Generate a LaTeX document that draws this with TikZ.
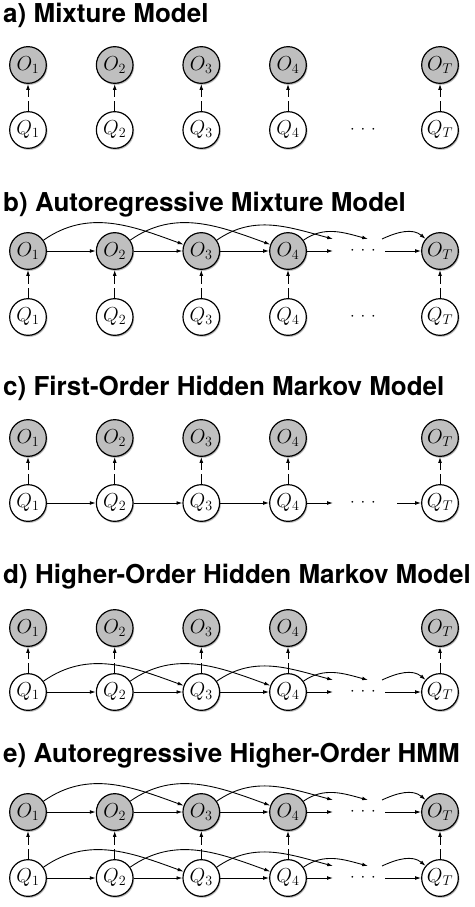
\documentclass[tikz,border=0pt]{standalone}
\usepackage{fontspec}
\newfontfamily\headfont{TeX Gyre Heros}
\usetikzlibrary{arrows.meta,shadows}

\begin{document}
\begin{tikzpicture}[x=0.03cm, y=0.03cm, every node/.style={align=center},
  title/.style={anchor=base west, inner sep=0pt, font=\headfont\bfseries\fontsize{22.2}{25}\selectfont},
  obsnode/.style={circle, draw, line width=1pt, fill=black!25, minimum size=1.1cm, inner sep=0pt, font=\LARGE,
    circular drop shadow={shadow scale=1.04, shadow xshift=0.6pt, shadow yshift=-0.9pt}},
  hidnode/.style={obsnode, fill=white},
  dotsnode/.style={inner sep=0pt, font=\Large},
  trans/.style={line width=0.75pt, -{Latex[length=5pt,width=3.2pt]}},
  emis/.style={trans, dash pattern=on 8.5pt off 3.8pt on 20pt off 1pt}]
\useasboundingbox (0,0) rectangle (474,-907);

% a) Mixture Model
\node[title] (title-a) at (3,-22.5) {a) Mixture Model};
\node[obsnode] (a-o1) at (28,-65) {$O_1$};
\node[obsnode] (a-o2) at (114.7,-65) {$O_2$};
\node[obsnode] (a-o3) at (201.3,-65) {$O_3$};
\node[obsnode] (a-o4) at (288,-65) {$O_4$};
\node[obsnode] (a-oT) at (440,-65) {$O_T$};
\node[hidnode] (a-q1) at (28,-130) {$Q_1$};
\node[hidnode] (a-q2) at (114.7,-130) {$Q_2$};
\node[hidnode] (a-q3) at (201.3,-130) {$Q_3$};
\node[hidnode] (a-q4) at (288,-130) {$Q_4$};
\node[hidnode] (a-qT) at (440,-130) {$Q_T$};
\node[dotsnode] (a-qdots) at (363,-130) {${\cdot}\hspace{5pt}{\cdot}\hspace{5pt}{\cdot}$};
\draw[emis] (a-q1) -- (a-o1);
\draw[emis] (a-q2) -- (a-o2);
\draw[emis] (a-q3) -- (a-o3);
\draw[emis] (a-q4) -- (a-o4);
\draw[emis] (a-qT) -- (a-oT);

% b) Autoregressive Mixture Model
\node[title] (title-b) at (3,-212) {b) Autoregressive Mixture Model};
\node[obsnode] (b-o1) at (28,-251) {$O_1$};
\node[obsnode] (b-o2) at (114.7,-251) {$O_2$};
\node[obsnode] (b-o3) at (201.3,-251) {$O_3$};
\node[obsnode] (b-o4) at (288,-251) {$O_4$};
\node[obsnode] (b-oT) at (440,-251) {$O_T$};
\node[hidnode] (b-q1) at (28,-317) {$Q_1$};
\node[hidnode] (b-q2) at (114.7,-317) {$Q_2$};
\node[hidnode] (b-q3) at (201.3,-317) {$Q_3$};
\node[hidnode] (b-q4) at (288,-317) {$Q_4$};
\node[hidnode] (b-qT) at (440,-317) {$Q_T$};
\node[dotsnode] (b-odots) at (363,-251) {${\cdot}\hspace{5pt}{\cdot}\hspace{5pt}{\cdot}$};
\node[dotsnode] (b-qdots) at (363,-317) {${\cdot}\hspace{5pt}{\cdot}\hspace{5pt}{\cdot}$};
\coordinate (b-oout) at (333,-251);
\coordinate (b-oin) at (385,-251);
\coordinate (b-oskip3) at (333,-239);
\coordinate (b-oskip4) at (368,-239);
\coordinate (b-oskipT) at (382,-239);
\draw[emis] (b-q1) -- (b-o1);
\draw[emis] (b-q2) -- (b-o2);
\draw[emis] (b-q3) -- (b-o3);
\draw[emis] (b-q4) -- (b-o4);
\draw[emis] (b-qT) -- (b-oT);
\draw[trans] (b-o1) -- (b-o2);
\draw[trans] (b-o2) -- (b-o3);
\draw[trans] (b-o3) -- (b-o4);
\draw[trans] (b-o4) -- (b-oout);
\draw[trans] (b-oin) -- (b-oT);
\draw[trans] (b-o1) to[out=35,in=160] (b-o3);
\draw[trans] (b-o2) to[out=35,in=160] (b-o4);
\draw[trans] (b-o3) to[out=35,in=165] (b-oskip3);
\draw[trans] (b-o4) to[out=35,in=165] (b-oskip4);
\draw[trans] (b-oskipT) to[out=25,in=140] (b-oT);

% c) First-Order Hidden Markov Model
\node[title] (title-c) at (3,-395) {c) First-Order Hidden Markov Model};
\node[obsnode] (c-o1) at (28,-438) {$O_1$};
\node[obsnode] (c-o2) at (114.7,-438) {$O_2$};
\node[obsnode] (c-o3) at (201.3,-438) {$O_3$};
\node[obsnode] (c-o4) at (288,-438) {$O_4$};
\node[obsnode] (c-oT) at (440,-438) {$O_T$};
\node[hidnode] (c-q1) at (28,-503) {$Q_1$};
\node[hidnode] (c-q2) at (114.7,-503) {$Q_2$};
\node[hidnode] (c-q3) at (201.3,-503) {$Q_3$};
\node[hidnode] (c-q4) at (288,-503) {$Q_4$};
\node[hidnode] (c-qT) at (440,-503) {$Q_T$};
\node[dotsnode] (c-qdots) at (363,-503) {${\cdot}\hspace{5pt}{\cdot}\hspace{5pt}{\cdot}$};
\coordinate (c-qout) at (333,-503);
\coordinate (c-qin) at (397,-503);
\draw[emis] (c-q1) -- (c-o1);
\draw[emis] (c-q2) -- (c-o2);
\draw[emis] (c-q3) -- (c-o3);
\draw[emis] (c-q4) -- (c-o4);
\draw[emis] (c-qT) -- (c-oT);
\draw[trans] (c-q1) -- (c-q2);
\draw[trans] (c-q2) -- (c-q3);
\draw[trans] (c-q3) -- (c-q4);
\draw[trans] (c-q4) -- (c-qout);
\draw[trans] (c-qin) -- (c-qT);

% d) Higher-Order Hidden Markov Model
\node[title] (title-d) at (3,-583) {d) Higher-Order Hidden Markov Model};
\node[obsnode] (d-o1) at (28,-628) {$O_1$};
\node[obsnode] (d-o2) at (114.7,-628) {$O_2$};
\node[obsnode] (d-o3) at (201.3,-628) {$O_3$};
\node[obsnode] (d-o4) at (288,-628) {$O_4$};
\node[obsnode] (d-oT) at (440,-628) {$O_T$};
\node[hidnode] (d-q1) at (28,-692) {$Q_1$};
\node[hidnode] (d-q2) at (114.7,-692) {$Q_2$};
\node[hidnode] (d-q3) at (201.3,-692) {$Q_3$};
\node[hidnode] (d-q4) at (288,-692) {$Q_4$};
\node[hidnode] (d-qT) at (440,-692) {$Q_T$};
\node[dotsnode] (d-qdots) at (363,-692) {${\cdot}\hspace{5pt}{\cdot}\hspace{5pt}{\cdot}$};
\coordinate (d-qout) at (333,-692);
\coordinate (d-qin) at (385,-692);
\coordinate (d-qskip3) at (333,-680);
\coordinate (d-qskip4) at (368,-680);
\coordinate (d-qskipT) at (382,-680);
\draw[emis] (d-q1) -- (d-o1);
\draw[emis] (d-q2) -- (d-o2);
\draw[emis] (d-q3) -- (d-o3);
\draw[emis] (d-q4) -- (d-o4);
\draw[emis] (d-qT) -- (d-oT);
\draw[trans] (d-q1) -- (d-q2);
\draw[trans] (d-q2) -- (d-q3);
\draw[trans] (d-q3) -- (d-q4);
\draw[trans] (d-q4) -- (d-qout);
\draw[trans] (d-qin) -- (d-qT);
\draw[trans] (d-q1) to[out=35,in=160] (d-q3);
\draw[trans] (d-q2) to[out=35,in=160] (d-q4);
\draw[trans] (d-q3) to[out=35,in=165] (d-qskip3);
\draw[trans] (d-q4) to[out=35,in=165] (d-qskip4);
\draw[trans] (d-qskipT) to[out=25,in=140] (d-qT);

% e) Autoregressive Higher-Order HMM
\node[title] (title-e) at (3,-762) {e) Autoregressive Higher-Order HMM};
\node[obsnode] (e-o1) at (28,-812) {$O_1$};
\node[obsnode] (e-o2) at (114.7,-812) {$O_2$};
\node[obsnode] (e-o3) at (201.3,-812) {$O_3$};
\node[obsnode] (e-o4) at (288,-812) {$O_4$};
\node[obsnode] (e-oT) at (440,-812) {$O_T$};
\node[hidnode] (e-q1) at (28,-878) {$Q_1$};
\node[hidnode] (e-q2) at (114.7,-878) {$Q_2$};
\node[hidnode] (e-q3) at (201.3,-878) {$Q_3$};
\node[hidnode] (e-q4) at (288,-878) {$Q_4$};
\node[hidnode] (e-qT) at (440,-878) {$Q_T$};
\node[dotsnode] (e-odots) at (363,-812) {${\cdot}\hspace{5pt}{\cdot}\hspace{5pt}{\cdot}$};
\node[dotsnode] (e-qdots) at (363,-878) {${\cdot}\hspace{5pt}{\cdot}\hspace{5pt}{\cdot}$};
\coordinate (e-oout) at (333,-812);
\coordinate (e-oin) at (385,-812);
\coordinate (e-oskip3) at (333,-800);
\coordinate (e-oskip4) at (368,-800);
\coordinate (e-oskipT) at (382,-800);
\coordinate (e-qout) at (333,-878);
\coordinate (e-qin) at (385,-878);
\coordinate (e-qskip3) at (333,-866);
\coordinate (e-qskip4) at (368,-866);
\coordinate (e-qskipT) at (382,-866);
\draw[emis] (e-q1) -- (e-o1);
\draw[emis] (e-q2) -- (e-o2);
\draw[emis] (e-q3) -- (e-o3);
\draw[emis] (e-q4) -- (e-o4);
\draw[emis] (e-qT) -- (e-oT);
\draw[trans] (e-o1) -- (e-o2);
\draw[trans] (e-o2) -- (e-o3);
\draw[trans] (e-o3) -- (e-o4);
\draw[trans] (e-o4) -- (e-oout);
\draw[trans] (e-oin) -- (e-oT);
\draw[trans] (e-o1) to[out=35,in=160] (e-o3);
\draw[trans] (e-o2) to[out=35,in=160] (e-o4);
\draw[trans] (e-o3) to[out=35,in=165] (e-oskip3);
\draw[trans] (e-o4) to[out=35,in=165] (e-oskip4);
\draw[trans] (e-oskipT) to[out=25,in=140] (e-oT);
\draw[trans] (e-q1) -- (e-q2);
\draw[trans] (e-q2) -- (e-q3);
\draw[trans] (e-q3) -- (e-q4);
\draw[trans] (e-q4) -- (e-qout);
\draw[trans] (e-qin) -- (e-qT);
\draw[trans] (e-q1) to[out=35,in=160] (e-q3);
\draw[trans] (e-q2) to[out=35,in=160] (e-q4);
\draw[trans] (e-q3) to[out=35,in=165] (e-qskip3);
\draw[trans] (e-q4) to[out=35,in=165] (e-qskip4);
\draw[trans] (e-qskipT) to[out=25,in=140] (e-qT);
\end{tikzpicture}
\end{document}
